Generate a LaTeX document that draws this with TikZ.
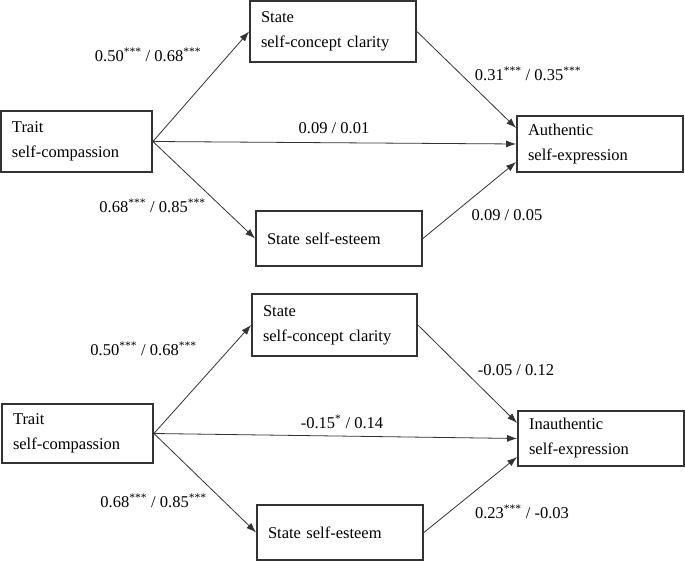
\documentclass[tikz,border=0pt]{standalone}
\usepackage{fontspec}
\setmainfont{Liberation Serif}
\usetikzlibrary{arrows.meta,positioning,calc}

\begin{document}
\begin{tikzpicture}[x=1pt,y=-1pt,
  box/.style={draw=black!80,line width=1.8pt,rectangle,inner xsep=11pt,align=left,
    font=\fontsize{16.5}{25}\selectfont},
  lbl/.style={anchor=base,inner sep=0pt,font=\fontsize{16.5}{20}\selectfont},
  link/.style={draw=black!80,line width=0.8pt,-{Latex[length=10pt,width=7pt]}}]
  \useasboundingbox (0,0) rectangle (685,561);
  % authentic
  \node[box,minimum width=151pt,minimum height=61pt,text width=129pt] (trait) at (76.5,141.5) {Trait\\self-compassion};
  \node[box,minimum width=166pt,minimum height=61pt,text width=144pt] (scc) at (333,31.5) {State\\self-concept clarity};
  \node[box,minimum width=166pt,minimum height=55pt,text width=144pt] (sse) at (339,238.5) {State self-esteem};
  \node[box,minimum width=166pt,minimum height=56pt,text width=144pt] (auth) at (600,144) {Authentic\\self-expression};
  \draw[link] (trait.east) -- (scc.west);
  \draw[link] (trait.east) -- (sse.west);
  \draw[link] (trait.east) -- (auth.west);
  \draw[link] (scc.east) -- ([yshift=16pt]auth.west);
  \draw[link] (sse.east) -- ([yshift=-18pt]auth.west);
  \node[lbl] (a1) at (148,61.6) {0.50\textsuperscript{***} / 0.68\textsuperscript{***}};
  \node[lbl] (b1) at (528,80.6) {0.31\textsuperscript{***} / 0.35\textsuperscript{***}};
  \node[lbl] (c1) at (334,133.6) {0.09 / 0.01};
  \node[lbl] (d1) at (152.5,212.6) {0.68\textsuperscript{***} / 0.85\textsuperscript{***}};
  \node[lbl] (e1) at (507,220.6) {0.09 / 0.05};
  % inauthentic
  \node[box,minimum width=151pt,minimum height=59pt,text width=129pt] (trait2) at (77.5,433.5) {Trait\\self-compassion};
  \node[box,minimum width=165pt,minimum height=62pt,text width=143pt] (scc2) at (334.5,325) {State\\self-concept clarity};
  \node[box,minimum width=166pt,minimum height=55pt,text width=144pt] (sse2) at (340,532.5) {State self-esteem};
  \node[box,minimum width=166pt,minimum height=55pt,text width=144pt] (inauth) at (601,438.5) {Inauthentic\\self-expression};
  \draw[link] (trait2.east) -- (scc2.west);
  \draw[link] (trait2.east) -- (sse2.west);
  \draw[link] (trait2.east) -- (inauth.west);
  \draw[link] (scc2.east) -- ([yshift=15.5pt]inauth.west);
  \draw[link] (sse2.east) -- ([yshift=-18.5pt]inauth.west);
  \node[lbl] (a2) at (143.5,355.6) {0.50\textsuperscript{***} / 0.68\textsuperscript{***}};
  \node[lbl] (b2) at (516,375.6) {-0.05 / 0.12};
  \node[lbl] (c2) at (342,428.6) {-0.15\textsuperscript{*} / 0.14};
  \node[lbl] (d2) at (153.5,507.6) {0.68\textsuperscript{***} / 0.85\textsuperscript{***}};
  \node[lbl] (e2) at (522,518.6) {0.23\textsuperscript{***} / -0.03};
\end{tikzpicture}
\end{document}
